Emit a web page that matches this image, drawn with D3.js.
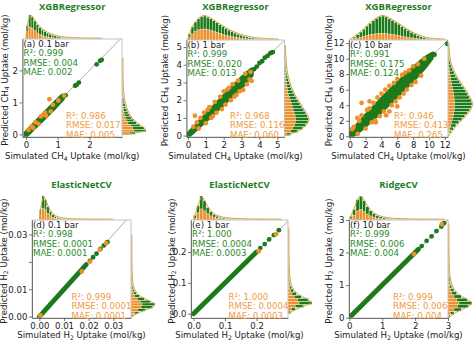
<!DOCTYPE html>
<html>
<head>
<meta charset="utf-8">
<script src="https://cdnjs.cloudflare.com/ajax/libs/d3/7.8.5/d3.min.js"></script>
<style>
body { margin: 0; background: #fff; }
svg { display: block; }
text { font-family: "DejaVu Sans", sans-serif; }
</style>
</head>
<body>
<div id="canvas"></div>
<script>
// ---- data ----
var panelNames = ["(a) 0.1 bar", "(b) 1 bar", "(c) 10 bar", "(d) 0.1 bar", "(e) 1 bar", "(f) 10 bar"];
var modelNames = ["XGBRegressor", "XGBRegressor", "XGBRegressor", "ElasticNetCV", "ElasticNetCV", "RidgeCV"];
var gasNames = [["CH", "4"], ["CH", "4"], ["CH", "4"], ["H", "2"], ["H", "2"], ["H", "2"]];

var trainR2 = ["0.999", "0.999", "0.991", "0.998", "1.000", "0.999"];
var trainRMSE = ["0.004", "0.020", "0.175", "0.0001", "0.0004", "0.006"];
var trainMAE = ["0.002", "0.013", "0.124", "0.0001", "0.0003", "0.004"];
var testR2 = ["0.986", "0.968", "0.946", "0.999", "1.000", "0.999"];
var testRMSE = ["0.017", "0.116", "0.413", "0.0001", "0.0004", "0.006"];
var testMAE = ["0.005", "0.060", "0.265", "0.0001", "0.0003", "0.004"];

var xDomains = [[-0.11, 3.03], [-0.08, 5.4], [-0.09, 12.4], [-0.0030, 0.0372], [-0.008, 0.30], [-0.01, 3.0]];
var yDomains = [[-0.08, 2.98], [-0.08, 5.4], [-0.09, 12.4], [-0.0005, 0.0353], [-0.014, 0.304], [-0.01, 3.0]];
var tickValues = [[0, 1, 2], [0, 1, 2, 3, 4, 5], [0, 2, 4, 6, 8, 10, 12], [0, 0.01, 0.02, 0.03], [0, 0.1, 0.2], [0, 1, 2, 3]];
var xTickLabels = [["0", "1", "2"], ["0", "1", "2", "3", "4", "5"], ["0", "2", "4", "6", "8", "10", "12"],
  ["0.00", "0.01", "0.02", "0.03"], ["0.0", "0.1", "0.2"], ["0", "1", "2", "3"]];
var yTickLabels = [["0", "1", "2"], ["0", "1", "2", "3", "4", "5"], ["0", "2", "4", "6", "8", "10", "12"],
  ["0.00", "0.01", "", "0.03"], ["0.0", "0.1", "0.2"], ["0", "1", "2", "3"]];

// dense training cloud along the diagonal: [simulated, predicted low, predicted high]
var trainBandA = [[0, -0.03, 0.04], [0.3, 0.26, 0.35], [0.6, 0.55, 0.66], [0.9, 0.85, 0.96], [1.15, 1.12, 1.2]];
var trainBandB = [[0, -0.03, 0.05], [1, 0.88, 1.12], [2, 1.82, 2.18], [3, 2.78, 3.22], [3.55, 3.42, 3.7]];
var trainBandC = [[0.1, 0.0, 0.3], [1, 0.6, 1.4], [2, 1.45, 2.55], [4, 3.3, 4.7], [6, 5.25, 6.75], [8, 7.3, 8.7], [9.5, 9.0, 10.0], [10.3, 10.1, 10.5]];
var trainBandD = [[0, 0, 0], [0.019, 0.019, 0.019]];
var trainBandE = [[0, 0, 0], [0.2, 0.2, 0.2]];
var trainBandF = [[0, 0, 0], [2.1, 2.1, 2.1]];

// sparse training points: [simulated, predicted]
var trainPtsA = [[1.18, 1.18], [1.25, 1.22], [1.55, 1.52], [1.6, 1.55], [1.67, 1.62], [2.23, 2.19], [2.34, 2.3], [2.39, 2.33]];
var trainPtsB = [[3.7, 3.75], [3.85, 3.9], [4.0, 4.1], [4.15, 4.2], [4.3, 4.4], [4.45, 4.5], [4.6, 4.65], [4.68, 4.69], [4.75, 4.72]];
var trainPtsC = [[10.5, 10.6], [10.7, 10.5], [12.3, 11.9], [12.6, 12.3]];
var trainPtsD = [[0.0205, 0.0204], [0.0218, 0.0217], [0.0232, 0.023], [0.0248, 0.0247], [0.0262, 0.026], [0.0276, 0.0272]];
var trainPtsE = [[0.212, 0.213], [0.226, 0.226], [0.24, 0.241], [0.255, 0.255], [0.271, 0.271]];
var trainPtsF = [[2.2, 2.2], [2.35, 2.36], [2.5, 2.5], [2.65, 2.66], [2.8, 2.8], [2.88, 2.9]];

// test points: [simulated, predicted]
var testPtsA = [[0.08, 0.14], [0.18, 0.25], [0.23, 0.2], [0.3, 0.38], [0.4, 0.33], [0.47, 0.56], [0.55, 0.62], [0.6, 0.68],
  [0.64, 0.58], [0.74, 1.1], [0.78, 0.72], [0.85, 0.92], [1.02, 1.06], [1.2, 1.21]];
var testPtsB = [[0.3, 0.5], [0.39, 1.12], [0.5, 0.75], [0.6, 0.4], [0.7, 1.0], [0.9, 1.3], [1.0, 0.7], [1.1, 1.45], [1.2, 1.6],
  [1.3, 1.0], [1.4, 1.1], [1.5, 1.9], [1.6, 1.3], [1.8, 2.2], [1.9, 1.5], [2.0, 2.5], [2.1, 1.75], [2.2, 2.6], [2.3, 2.7],
  [2.4, 2.0], [2.5, 2.9], [2.6, 2.2], [2.72, 2.3], [2.8, 3.1], [2.9, 2.5], [3.09, 2.58], [3.2, 3.5], [3.3, 2.9],
  [3.45, 3.17], [3.56, 3.09], [3.5, 3.6]];
var testPtsC = [[0.3, 0.9], [0.5, 1.2], [0.96, 2.36], [1.0, 0.3], [1.2, 2.0], [1.5, 4.3], [1.5, 2.7], [2.0, 1.0], [2.2, 3.4],
  [2.5, 3.6], [2.5, 4.5], [2.8, 1.8], [3.0, 4.3], [3.2, 2.0], [3.3, 1.8], [3.5, 5.0], [3.8, 2.6], [4.0, 5.5], [4.3, 3.2],
  [4.6, 2.7], [4.5, 6.0], [5.0, 3.2], [5.0, 6.5], [5.3, 4.0], [5.58, 6.86], [5.8, 4.5], [6.0, 3.85], [6.0, 7.4],
  [6.3, 5.0], [6.6, 7.9], [6.8, 5.5], [7.0, 8.2], [7.2, 6.0], [7.5, 8.5], [7.8, 6.6], [8.0, 9.0], [8.3, 7.0],
  [8.6, 9.3], [9.0, 7.8], [9.4, 10.0]];
var testPtsD = [[0.0004, 0.0005], [0.0172, 0.0165], [0.0206, 0.0201], [0.0245, 0.0245], [0.0271, 0.0268]];
var testPtsE = [[0.207, 0.203], [0.262, 0.258]];
var testPtsF = [[1.97, 1.95], [2.81, 2.87]];

// marginal histograms (relative heights, bins start at 0)
var binWidths = [0.08, 0.17, 0.4, 0.001, 0.01, 0.1];
var trainHistA = [55, 100, 92, 75, 60, 48, 38, 31, 25, 20, 16, 13, 10, 8, 6, 5, 4, 3, 2, 2, 1.5, 1, 1, 1, 0.5, 0.5, 0.5, 0.5, 1, 0.5];
var testHistA = [30, 50, 45, 35, 25, 18, 14, 10, 8, 6, 5, 4, 3, 2, 2, 1, 1, 1, 0.5, 0.5, 0, 0, 0, 0, 0, 0, 0, 0, 0, 0];
var trainHistB = [25, 55, 75, 88, 97, 100, 95, 88, 80, 72, 64, 56, 48, 41, 35, 29, 24, 20, 16, 13, 10, 8, 6, 5, 4, 3, 2, 2, 1, 1];
var testHistB = [10, 25, 35, 42, 45, 46, 44, 40, 36, 32, 28, 24, 20, 17, 14, 12, 10, 8, 6, 5, 4, 3, 2, 2, 1, 1, 0, 0, 0, 0];
var trainHistC = [4, 12, 22, 33, 45, 58, 70, 80, 90, 97, 100, 96, 88, 82, 74, 66, 56, 48, 40, 32, 25, 19, 14, 10, 7, 5, 3, 2, 1, 1];
var testHistC = [2, 5, 8, 12, 15, 19, 22, 24, 26, 28, 28, 27, 25, 23, 21, 18, 15, 13, 11, 9, 7, 5, 4, 3, 2, 1, 1, 0.5, 0, 0];
var trainHistD = [45, 100, 85, 55, 35, 22, 15, 10, 7, 5, 4, 3, 2.5, 2, 1.5, 1.2, 1, 1, 0.8, 0.6, 0.5, 0.5, 0.4, 0.4, 0.3, 0.3, 0.2, 0.2, 0.1, 0.1];
var testHistD = [22, 48, 42, 28, 17, 11, 7, 5, 3, 2, 2, 1.5, 1, 1, 0.8, 0.5, 0.5, 0.3, 0.3, 0.2, 0, 0, 0, 0, 0, 0, 0, 0, 0, 0];
var trainHistE = [20, 60, 100, 80, 52, 34, 23, 16, 11, 8, 6, 5, 4, 3, 2.5, 2, 1.5, 1.2, 1, 1, 0.8, 0.6, 0.5, 0.5, 0.4, 0.3, 0.3, 0.2];
var testHistE = [8, 30, 46, 38, 26, 17, 12, 8, 6, 4, 3, 2, 2, 1.5, 1, 1, 0.8, 0.5, 0.5, 0.3, 0.3, 0, 0, 0, 0, 0, 0, 0];
var trainHistF = [15, 45, 85, 100, 80, 55, 38, 26, 18, 13, 9, 7, 5, 4, 3, 2.5, 2, 1.5, 1.2, 1, 0.8, 0.6, 0.5, 0.5, 0.4, 0.3, 0.3, 0.2, 0.2];
var testHistF = [6, 20, 38, 45, 36, 25, 17, 12, 8, 6, 4, 3, 2, 2, 1.5, 1, 0.8, 0.5, 0.5, 0.3, 0, 0, 0, 0, 0, 0, 0, 0, 0];

// right-hand (predicted) marginals of the H2 panels peak a little higher
var trainHistDy = [10, 30, 60, 90, 100, 80, 55, 35, 22, 14, 9, 6, 4, 3, 2.5, 2, 1.5, 1.2, 1, 0.8, 0.6, 0.5, 0.4, 0.4, 0.3, 0.3, 0.2, 0.2, 0.1, 0.1];
var testHistDy = [5, 14, 28, 42, 46, 38, 26, 16, 10, 6, 4, 3, 2, 1.5, 1, 0.8, 0.5, 0.5, 0.3, 0.2, 0, 0, 0, 0, 0, 0, 0, 0, 0, 0];
var trainHistEy = [10, 30, 65, 100, 85, 55, 35, 23, 15, 10, 7, 5, 4, 3, 2.5, 2, 1.5, 1.2, 1, 1, 0.8, 0.6, 0.5, 0.5, 0.4, 0.3, 0.3, 0.2];
var testHistEy = [4, 14, 30, 46, 40, 26, 17, 11, 7, 5, 3, 2, 2, 1.5, 1, 1, 0.8, 0.5, 0.5, 0.3, 0.3, 0, 0, 0, 0, 0, 0, 0];
var trainHistFy = [8, 25, 55, 85, 100, 80, 55, 36, 24, 16, 11, 8, 6, 4, 3, 2.5, 2, 1.5, 1.2, 1, 0.8, 0.6, 0.5, 0.5, 0.4, 0.3, 0.3, 0.2, 0.2];
var testHistFy = [3, 11, 25, 40, 46, 37, 25, 16, 11, 7, 5, 3, 2, 2, 1.5, 1, 0.8, 0.5, 0.5, 0.3, 0, 0, 0, 0, 0, 0, 0, 0, 0];

var trainBands = [trainBandA, trainBandB, trainBandC, trainBandD, trainBandE, trainBandF];
var trainPts = [trainPtsA, trainPtsB, trainPtsC, trainPtsD, trainPtsE, trainPtsF];
var testPts = [testPtsA, testPtsB, testPtsC, testPtsD, testPtsE, testPtsF];
var trainHists = [trainHistA, trainHistB, trainHistC, trainHistD, trainHistE, trainHistF];
var testHists = [testHistA, testHistB, testHistC, testHistD, testHistE, testHistF];
var trainHistsY = [trainHistA, trainHistB, trainHistC, trainHistDy, trainHistEy, trainHistFy];
var testHistsY = [testHistA, testHistB, testHistC, testHistDy, testHistEy, testHistFy];

// ---- layout ----
var W = 474, H = 342;
var boxes = [[22.5, 122, 39, 137], [186.5, 284.5, 40, 137], [349, 448, 40, 137],
  [32, 131, 220, 318], [191, 288, 220, 318], [349, 448, 220, 318]];
var titleY = [10, 10, 10, 188, 188, 188];
var xLabelY = [158.5, 158.5, 158.5, 337.5, 337.5, 337.5];
var yLabelOff = [17.5, 21.5, 20, 28, 19, 20];
var testTextOff = [43.5, 43.5, 45, 39.5, 37.5, 44];
var GREEN = "#1b7a1b", GREEN_TXT = "#2a892a", ORANGE = "#f0902a", ORANGE_TXT = "#f09a3e", KDE = "#d6a23c";
var FS = 8.6, R = 2.4, MARG = 24;

var svg = d3.select('#canvas').append('svg')
  .attr('width', W)
  .attr('height', H);

var addSubText = function(t, pre, sub, post) {
  t.append('tspan').text(pre);
  t.append('tspan').attr('font-size', 6.2).attr('dy', 2).text(sub);
  t.append('tspan').attr('dy', -2).text(post);
};

var kdePoints = function(counts, w) {
  return [[0, 0]].concat(counts.map(function(d, j) { return [(j + 0.5) * w, d]; }), [[counts.length * w, 0]]);
};

var drawPanel = function(i) {
  var b = boxes[i];
  var x = d3.scaleLinear().domain(xDomains[i]).range([b[0], b[1]]);
  var y = d3.scaleLinear().domain(yDomains[i]).range([b[3], b[2]]);
  var hs = d3.scaleLinear().domain([0, 100]).range([0, MARG]);
  var g = svg.append('g');

  var defs = g.append('defs');
  defs.append('clipPath').attr('id', 'box' + i).append('rect')
    .attr('x', b[0]).attr('y', b[2]).attr('width', b[1] - b[0]).attr('height', b[3] - b[2]);
  defs.append('clipPath').attr('id', 'top' + i).append('rect')
    .attr('x', b[0]).attr('y', b[2] - MARG - 4).attr('width', b[1] - b[0]).attr('height', MARG + 4);
  defs.append('clipPath').attr('id', 'right' + i).append('rect')
    .attr('x', b[1]).attr('y', b[2]).attr('width', MARG + 6).attr('height', b[3] - b[2]);

  var w = binWidths[i];

  // top marginal
  var top = g.append('g').attr('clip-path', 'url(#top' + i + ')');
  [[trainHists[i], GREEN], [testHists[i], ORANGE]].forEach(function(s) {
    top.selectAll(null).data(s[0]).enter().append('rect')
      .attr('x', function(d, j) { return x(j * w); })
      .attr('width', function(d, j) { return x((j + 1) * w) - x(j * w); })
      .attr('y', function(d) { return b[2] - hs(d); })
      .attr('height', function(d) { return hs(d); })
      .attr('fill', s[1])
      .attr('stroke', '#fff')
      .attr('stroke-width', 0.4);
  });
  var topLine = d3.line().curve(d3.curveBasis)
    .x(function(d) { return x(d[0]); })
    .y(function(d) { return b[2] - hs(d[1]) - 0.8; });
  top.append('path').attr('d', topLine(kdePoints(trainHists[i], w)))
    .attr('fill', 'none').attr('stroke', KDE).attr('stroke-width', 1);

  // right marginal
  var right = g.append('g').attr('clip-path', 'url(#right' + i + ')');
  [[trainHistsY[i], GREEN], [testHistsY[i], ORANGE]].forEach(function(s) {
    right.selectAll(null).data(s[0]).enter().append('rect')
      .attr('x', b[1])
      .attr('y', function(d, j) { return y((j + 1) * w); })
      .attr('height', function(d, j) { return y(j * w) - y((j + 1) * w); })
      .attr('width', function(d) { return hs(d); })
      .attr('fill', s[1])
      .attr('stroke', '#fff')
      .attr('stroke-width', 0.4);
  });
  var rightLine = d3.line().curve(d3.curveBasis)
    .x(function(d) { return b[1] + hs(d[1]) + 0.8; })
    .y(function(d) { return y(d[0]); });
  right.append('path').attr('d', rightLine(kdePoints(trainHistsY[i], w)))
    .attr('fill', 'none').attr('stroke', KDE).attr('stroke-width', 1);

  // joint plot
  var plot = g.append('g').attr('clip-path', 'url(#box' + i + ')');
  var lo = Math.min(xDomains[i][0], yDomains[i][0]), hi = Math.max(xDomains[i][1], yDomains[i][1]);
  plot.append('line')
    .attr('x1', x(lo)).attr('y1', y(lo)).attr('x2', x(hi)).attr('y2', y(hi))
    .attr('stroke', '#999').attr('stroke-width', 0.8);

  var band = d3.area()
    .x(function(d) { return x(d[0]); })
    .y0(function(d) { return y(d[1]); })
    .y1(function(d) { return y(d[2]); });
  plot.append('path').attr('d', band(trainBands[i]))
    .attr('fill', GREEN).attr('stroke', GREEN)
    .attr('stroke-width', 2 * R).attr('stroke-linejoin', 'round').attr('stroke-linecap', 'round');
  plot.selectAll(null).data(trainPts[i]).enter().append('circle')
    .attr('cx', function(d) { return x(d[0]); })
    .attr('cy', function(d) { return y(d[1]); })
    .attr('r', R).attr('fill', GREEN);
  plot.selectAll(null).data(testPts[i]).enter().append('circle')
    .attr('cx', function(d) { return x(d[0]); })
    .attr('cy', function(d) { return y(d[1]); })
    .attr('r', R).attr('fill', ORANGE);

  // frame
  g.append('rect')
    .attr('x', b[0]).attr('y', b[2]).attr('width', b[1] - b[0]).attr('height', b[3] - b[2])
    .attr('fill', 'none').attr('stroke', '#b5b5b5').attr('stroke-width', 0.8);

  var xa = g.append('g').attr('transform', 'translate(0,' + b[3] + ')')
    .call(d3.axisBottom(x).tickValues(tickValues[i]).tickSize(3).tickSizeOuter(0).tickPadding(1.5)
      .tickFormat(function(d, j) { return xTickLabels[i][j]; }));
  var ya = g.append('g').attr('transform', 'translate(' + b[0] + ',0)')
    .call(d3.axisLeft(y).tickValues(tickValues[i]).tickSize(3).tickSizeOuter(0).tickPadding(1.5)
      .tickFormat(function(d, j) { return yTickLabels[i][j]; }));
  [xa, ya].forEach(function(a) {
    a.attr('font-family', null).attr('font-size', FS);
    a.select('.domain').attr('stroke', '#555').attr('stroke-width', 0.8);
    a.selectAll('.tick line').attr('stroke', '#555').attr('stroke-width', 0.8);
    a.selectAll('.tick text').attr('fill', '#222');
  });

  // titles and labels
  g.append('text')
    .attr('x', (b[0] + b[1]) / 2).attr('y', titleY[i])
    .attr('text-anchor', 'middle')
    .style('font-family', '"Open Sans", sans-serif')
    .attr('font-weight', 700).attr('font-size', 9.5)
    .attr('fill', '#1f7d1f')
    .text(modelNames[i]);

  var xl = g.append('text')
    .attr('x', (b[0] + b[1]) / 2).attr('y', xLabelY[i])
    .attr('text-anchor', 'middle').attr('font-size', FS).attr('fill', '#222');
  addSubText(xl, 'Simulated ' + gasNames[i][0], gasNames[i][1], ' Uptake (mol/kg)');

  var yl = g.append('text')
    .attr('transform', 'translate(' + (b[0] - yLabelOff[i]) + ',' + ((b[2] + b[3]) / 2 - 8) + ') rotate(-90)')
    .attr('text-anchor', 'middle').attr('dominant-baseline', 'middle').attr('font-size', FS).attr('fill', '#222');
  addSubText(yl, 'Predicted ' + gasNames[i][0], gasNames[i][1], ' Uptake (mol/kg)');

  // stats
  var sx = b[0] + 1;
  g.append('text').attr('x', sx).attr('y', b[2] + 7.8).attr('font-size', FS).attr('fill', '#222').text(panelNames[i]);
  [['R\u00b2: ', trainR2], ['RMSE: ', trainRMSE], ['MAE: ', trainMAE]].forEach(function(s, k) {
    g.append('text').attr('x', sx).attr('y', b[2] + 17.3 + k * 9.5)
      .attr('font-size', FS).attr('fill', GREEN_TXT).text(s[0] + s[1][i]);
  });
  [['R\u00b2: ', testR2], ['RMSE: ', testRMSE], ['MAE: ', testMAE]].forEach(function(s, k) {
    g.append('text').attr('x', b[0] + testTextOff[i]).attr('y', b[3] + 0.6 - (2 - k) * 9.4)
      .attr('font-size', FS).attr('fill', ORANGE_TXT).text(s[0] + s[1][i]);
  });
};

for (var i = 0; i < 6; i++) { drawPanel(i); }
</script>
</body>
</html>
